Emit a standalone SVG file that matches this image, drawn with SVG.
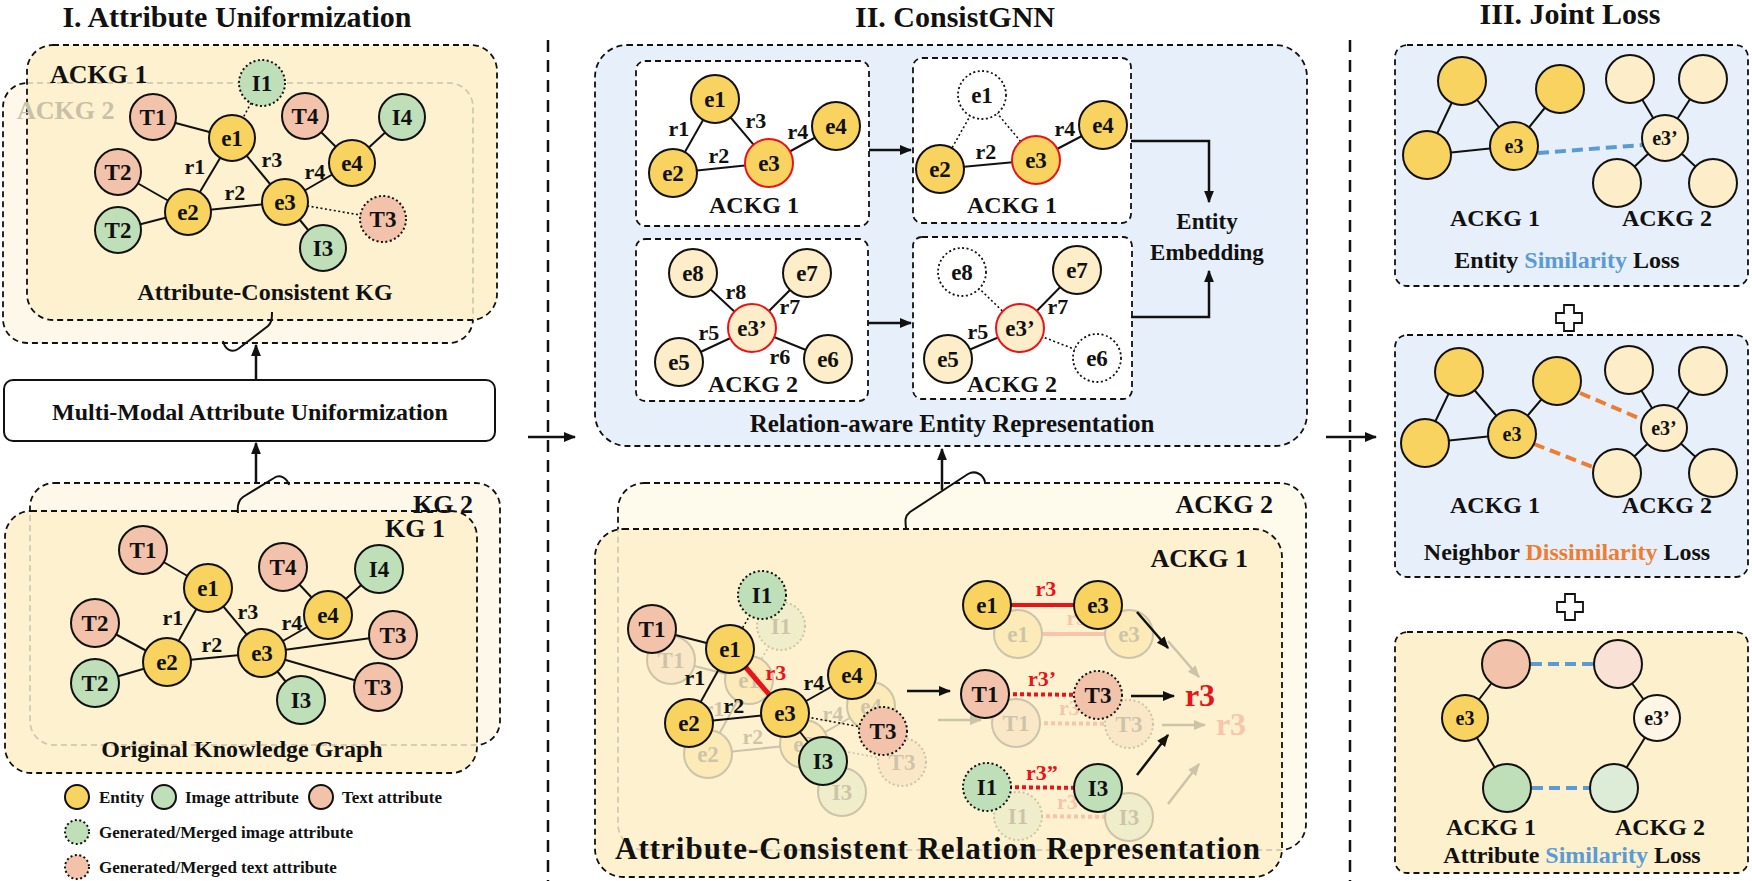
<svg xmlns="http://www.w3.org/2000/svg" xmlns:xlink="http://www.w3.org/1999/xlink" width="1752" height="881" viewBox="0 0 1752 881">
<style>
text{font-family:"Liberation Serif","Times New Roman",serif;font-weight:bold;fill:#111}
.t{font-size:30px;text-anchor:middle}
.nl{font-size:23px;text-anchor:middle}
.sl{font-size:20px;text-anchor:middle}
.rl{font-size:22px;text-anchor:middle}
.lb{font-size:24px;text-anchor:middle}
.lg{font-size:17px}
.box{stroke:#111;stroke-width:1.8;stroke-dasharray:6 4}
.ent{fill:#f9d35f;stroke:#111;stroke-width:2}
.ent2{fill:#fdedc8;stroke:#111;stroke-width:2}
.img{fill:#bfdfb9;stroke:#111;stroke-width:2}
.txt{fill:#f2c3aa;stroke:#111;stroke-width:2}
.gen{stroke-dasharray:2 2.5}
.red{stroke:#e8141a!important}
.dot{fill:#fff;stroke:#111;stroke-width:1.8;stroke-dasharray:2 2.5}
.e{stroke:#111;stroke-width:2;fill:none}
.ed{stroke:#111;stroke-width:1.6;stroke-dasharray:2 2.5;fill:none}
.sep{stroke:#111;stroke-width:2.5;stroke-dasharray:12 8}
.ar{stroke:#111;stroke-width:2.5;fill:none;marker-end:url(#ah)}
.ghost{opacity:0.2}
.faint{fill:none;stroke:#cfc7b4;stroke-width:1.5;stroke-dasharray:6 4}
</style>
<defs>
<marker id="ah" viewBox="0 0 10 10" refX="9" refY="5" markerWidth="5" markerHeight="5" orient="auto" markerUnits="strokeWidth"><path d="M0,1 L10,5 L0,9 z" fill="#111"/></marker>
<clipPath id="c1"><rect x="28" y="46" width="468" height="273" rx="26"/></clipPath>
<clipPath id="c2"><rect x="6" y="512" width="470" height="260" rx="26"/></clipPath>
<clipPath id="c3"><rect x="596" y="530" width="685" height="346" rx="28"/></clipPath>
</defs>
<rect width="1752" height="881" fill="#fff"/>

<!-- titles -->
<text class="t" x="237" y="27">I. Attribute Uniformization</text>
<text class="t" x="955" y="27">II. ConsistGNN</text>
<text class="t" x="1570" y="24">III. Joint Loss</text>
<line class="sep" x1="548" y1="40" x2="548" y2="881"/>
<line class="sep" x1="1350" y1="40" x2="1350" y2="881"/>

<!-- ===== Panel I top: ACKG ===== -->
<g id="ackg-top">
<rect class="box" x="3" y="83" width="470" height="260" rx="24" fill="#fef8ea"/>
<rect class="box" x="27" y="45" width="470" height="275" rx="26" fill="#fdf0cc" fill-opacity="0.92"/>
<rect class="faint" x="3" y="83" width="470" height="260" rx="24" clip-path="url(#c1)"/>
<text x="50" y="83" style="font-size:26px">ACKG 1</text>
<text x="17" y="119" style="font-size:26px;fill:#c9c0a8">ACKG 2</text>
<text class="lb" x="265" y="300">Attribute-Consistent KG</text>
</g>
<g id="ackg-top-edges">
<line class="e" x1="153" y1="117" x2="232" y2="138"/>
<line class="ed" x1="262" y1="83" x2="232" y2="138"/>
<line class="e" x1="232" y1="138" x2="188" y2="212"/>
<line class="e" x1="232" y1="138" x2="285" y2="202"/>
<line class="e" x1="188" y1="212" x2="285" y2="202"/>
<line class="e" x1="118" y1="172" x2="188" y2="212"/>
<line class="e" x1="118" y1="230" x2="188" y2="212"/>
<line class="e" x1="285" y1="202" x2="352" y2="163"/>
<line class="e" x1="305" y1="116" x2="352" y2="163"/>
<line class="e" x1="402" y1="117" x2="352" y2="163"/>
<line class="ed" x1="285" y1="202" x2="383" y2="219"/>
<line class="e" x1="285" y1="202" x2="323" y2="248"/>
</g>
<g id="ackg-top-nodes">
<g id="a-I1"><circle class="img gen" cx="262" cy="83" r="23"/><text class="nl" x="262" y="91">I1</text></g>
<g id="a-T1"><circle class="txt" cx="153" cy="117" r="23"/><text class="nl" x="153" y="125">T1</text></g>
<g id="a-e1"><circle class="ent" cx="232" cy="138" r="23"/><text class="nl" x="232" y="146">e1</text></g>
<g id="a-T4"><circle class="txt" cx="305" cy="116" r="23"/><text class="nl" x="305" y="124">T4</text></g>
<g id="a-I4"><circle class="img" cx="402" cy="117" r="23"/><text class="nl" x="402" y="125">I4</text></g>
<g id="a-T2"><circle class="txt" cx="118" cy="172" r="23"/><text class="nl" x="118" y="180">T2</text></g>
<g id="a-e4"><circle class="ent" cx="352" cy="163" r="23"/><text class="nl" x="352" y="171">e4</text></g>
<g id="a-e2"><circle class="ent" cx="188" cy="212" r="23"/><text class="nl" x="188" y="220">e2</text></g>
<g id="a-e3"><circle class="ent" cx="285" cy="202" r="23"/><text class="nl" x="285" y="210">e3</text></g>
<g id="a-T2g"><circle class="img" cx="118" cy="230" r="23"/><text class="nl" x="118" y="238">T2</text></g>
<g id="a-T3"><circle class="txt gen" cx="383" cy="219" r="23"/><text class="nl" x="383" y="227">T3</text></g>
<g id="a-I3"><circle class="img" cx="323" cy="248" r="23"/><text class="nl" x="323" y="256">I3</text></g>
<text class="rl" x="195" y="174">r1</text><text class="rl" x="272" y="167">r3</text>
<text class="rl" x="315" y="179">r4</text><text class="rl" x="235" y="200">r2</text>
</g>

<!-- Multi-modal box -->
<g id="mm">
<rect x="4" y="380" width="491" height="61" rx="9" fill="#fff" stroke="#111" stroke-width="2"/>
<text x="250" y="420" style="font-size:24px;text-anchor:middle">Multi-Modal Attribute Uniformization</text>
</g>

<!-- ===== Panel I bottom: KG ===== -->
<g id="kg">
<rect class="box" x="30" y="483" width="470" height="262" rx="24" fill="#fef8ea"/>
<rect class="box" x="5" y="511" width="472" height="262" rx="26" fill="#fdf0cc" fill-opacity="0.92"/>
<rect class="faint" x="30" y="483" width="470" height="262" rx="24" clip-path="url(#c2)"/>
<text x="473" y="513" style="font-size:26px;text-anchor:end">KG 2</text>
<text x="445" y="537" style="font-size:26px;text-anchor:end">KG 1</text>
<text class="lb" x="242" y="757">Original Knowledge Graph</text>
</g>
<g id="kg-edges">
<line class="e" x1="143" y1="550" x2="208" y2="588"/>
<line class="e" x1="208" y1="588" x2="167" y2="662"/>
<line class="e" x1="208" y1="588" x2="262" y2="653"/>
<line class="e" x1="167" y1="662" x2="262" y2="653"/>
<line class="e" x1="95" y1="623" x2="167" y2="662"/>
<line class="e" x1="95" y1="683" x2="167" y2="662"/>
<line class="e" x1="262" y1="653" x2="328" y2="615"/>
<line class="e" x1="283" y1="567" x2="328" y2="615"/>
<line class="e" x1="379" y1="569" x2="328" y2="615"/>
<line class="e" x1="262" y1="653" x2="393" y2="635"/>
<line class="e" x1="262" y1="653" x2="378" y2="687"/>
<line class="e" x1="262" y1="653" x2="301" y2="700"/>
</g>
<g id="kg-nodes">
<g id="k-T1"><circle class="txt" cx="143" cy="550" r="24"/><text class="nl" x="143" y="558">T1</text></g>
<g id="k-e1"><circle class="ent" cx="208" cy="588" r="24"/><text class="nl" x="208" y="596">e1</text></g>
<g id="k-T4"><circle class="txt" cx="283" cy="567" r="24"/><text class="nl" x="283" y="575">T4</text></g>
<g id="k-I4"><circle class="img" cx="379" cy="569" r="24"/><text class="nl" x="379" y="577">I4</text></g>
<g id="k-T2"><circle class="txt" cx="95" cy="623" r="24"/><text class="nl" x="95" y="631">T2</text></g>
<g id="k-e4"><circle class="ent" cx="328" cy="615" r="24"/><text class="nl" x="328" y="623">e4</text></g>
<g id="k-T3a"><circle class="txt" cx="393" cy="635" r="24"/><text class="nl" x="393" y="643">T3</text></g>
<g id="k-e2"><circle class="ent" cx="167" cy="662" r="24"/><text class="nl" x="167" y="670">e2</text></g>
<g id="k-e3"><circle class="ent" cx="262" cy="653" r="24"/><text class="nl" x="262" y="661">e3</text></g>
<g id="k-T2g"><circle class="img" cx="95" cy="683" r="24"/><text class="nl" x="95" y="691">T2</text></g>
<g id="k-T3b"><circle class="txt" cx="378" cy="687" r="24"/><text class="nl" x="378" y="695">T3</text></g>
<g id="k-I3"><circle class="img" cx="301" cy="700" r="24"/><text class="nl" x="301" y="708">I3</text></g>
<text class="rl" x="173" y="625">r1</text><text class="rl" x="248" y="619">r3</text>
<text class="rl" x="292" y="630">r4</text><text class="rl" x="212" y="652">r2</text>
</g>

<!-- legend -->
<g id="legend">
<circle class="ent" cx="77" cy="797" r="12"/><text class="lg" x="99" y="803">Entity</text>
<circle class="img" cx="164" cy="797" r="12"/><text class="lg" x="185" y="803">Image attribute</text>
<circle class="txt" cx="321" cy="797" r="12"/><text class="lg" x="342" y="803">Text attribute</text>
<circle class="img gen" cx="77" cy="832" r="12"/><text class="lg" x="99" y="838">Generated/Merged image attribute</text>
<circle class="txt gen" cx="77" cy="867" r="12"/><text class="lg" x="99" y="873">Generated/Merged text attribute</text>
</g>

<!-- ===== Panel II ===== -->
<g id="rae">
<rect class="box" x="595" y="45" width="712" height="401" rx="32" fill="#e7f0fa"/>
<text x="952" y="432" style="font-size:25px;text-anchor:middle">Relation-aware Entity Representation</text>
<text x="1207" y="229" style="font-size:23px;text-anchor:middle">Entity</text>
<text x="1207" y="260" style="font-size:23px;text-anchor:middle">Embedding</text>
</g>
<g id="boxA1">
<rect class="box" x="636" y="61" width="233" height="165" rx="9" fill="#fff"/>
<line class="e" x1="715" y1="99" x2="673" y2="173"/><line class="e" x1="715" y1="99" x2="769" y2="163"/>
<line class="e" x1="673" y1="173" x2="769" y2="163"/><line class="e" x1="769" y1="163" x2="836" y2="126"/>
<circle class="ent" cx="715" cy="99" r="24"/><text class="nl" x="715" y="107">e1</text>
<circle class="ent" cx="673" cy="173" r="24"/><text class="nl" x="673" y="181">e2</text>
<circle class="ent red" cx="769" cy="163" r="24"/><text class="nl" x="769" y="171">e3</text>
<circle class="ent" cx="836" cy="126" r="24"/><text class="nl" x="836" y="134">e4</text>
<text class="rl" x="679" y="136">r1</text><text class="rl" x="756" y="128">r3</text>
<text class="rl" x="798" y="139">r4</text><text class="rl" x="719" y="163">r2</text>
<text class="lb" x="754" y="213">ACKG 1</text>
</g>
<g id="boxB1">
<rect class="box" x="913" y="58" width="218" height="165" rx="9" fill="#fff"/>
<line class="ed" x1="982" y1="95" x2="940" y2="169"/><line class="ed" x1="982" y1="95" x2="1036" y2="160"/>
<line class="e" x1="940" y1="169" x2="1036" y2="160"/><line class="e" x1="1036" y1="160" x2="1103" y2="125"/>
<circle class="dot" cx="982" cy="95" r="24"/><text class="nl" x="982" y="103">e1</text>
<circle class="ent" cx="940" cy="169" r="24"/><text class="nl" x="940" y="177">e2</text>
<circle class="ent red" cx="1036" cy="160" r="24"/><text class="nl" x="1036" y="168">e3</text>
<circle class="ent" cx="1103" cy="125" r="24"/><text class="nl" x="1103" y="133">e4</text>
<text class="rl" x="986" y="159">r2</text><text class="rl" x="1065" y="136">r4</text>
<text class="lb" x="1012" y="213">ACKG 1</text>
</g>
<g id="boxA2">
<rect class="box" x="636" y="239" width="232" height="162" rx="9" fill="#fff"/>
<line class="e" x1="693" y1="273" x2="752" y2="328"/><line class="e" x1="807" y1="273" x2="752" y2="328"/>
<line class="e" x1="679" y1="362" x2="752" y2="328"/><line class="e" x1="828" y1="359" x2="752" y2="328"/>
<circle class="ent2" cx="693" cy="273" r="24"/><text class="nl" x="693" y="281">e8</text>
<circle class="ent2" cx="807" cy="273" r="24"/><text class="nl" x="807" y="281">e7</text>
<circle class="ent2 red" cx="752" cy="328" r="24"/><text class="nl" x="752" y="336">e3’</text>
<circle class="ent2" cx="679" cy="362" r="24"/><text class="nl" x="679" y="370">e5</text>
<circle class="ent2" cx="828" cy="359" r="24"/><text class="nl" x="828" y="367">e6</text>
<text class="rl" x="736" y="299">r8</text><text class="rl" x="790" y="314">r7</text>
<text class="rl" x="709" y="340">r5</text><text class="rl" x="780" y="364">r6</text>
<text class="lb" x="753" y="392">ACKG 2</text>
</g>
<g id="boxB2">
<rect class="box" x="913" y="237" width="219" height="162" rx="9" fill="#fff"/>
<line class="ed" x1="962" y1="272" x2="1020" y2="328"/><line class="e" x1="1077" y1="270" x2="1020" y2="328"/>
<line class="e" x1="948" y1="359" x2="1020" y2="328"/><line class="ed" x1="1097" y1="358" x2="1020" y2="328"/>
<circle class="dot" cx="962" cy="272" r="24"/><text class="nl" x="962" y="280">e8</text>
<circle class="ent2" cx="1077" cy="270" r="24"/><text class="nl" x="1077" y="278">e7</text>
<circle class="ent2 red" cx="1020" cy="328" r="24"/><text class="nl" x="1020" y="336">e3’</text>
<circle class="ent2" cx="948" cy="359" r="24"/><text class="nl" x="948" y="367">e5</text>
<circle class="dot" cx="1097" cy="358" r="24"/><text class="nl" x="1097" y="366">e6</text>
<text class="rl" x="1058" y="314">r7</text><text class="rl" x="978" y="339">r5</text>
<text class="lb" x="1012" y="392">ACKG 2</text>
</g>

<!-- bottom ACKG stack -->
<g id="acr">
<rect class="box" x="618" y="483" width="688" height="367" rx="26" fill="#fefaec"/>
<rect class="box" x="595" y="529" width="687" height="348" rx="28" fill="#fdf0cc" fill-opacity="0.92"/>
<rect class="faint" x="618" y="483" width="688" height="367" rx="26" clip-path="url(#c3)"/>
<text x="1273" y="513" style="font-size:26px;text-anchor:end">ACKG 2</text>
<text x="1248" y="567" style="font-size:26px;text-anchor:end">ACKG 1</text>
<text x="615" y="859" textLength="645" style="font-size:31px">Attribute-Consistent Relation Representation</text>
</g>
<use xlink:href="#acr-left" href="#acr-left" transform="translate(19,31)" class="ghost"/>
<use xlink:href="#acr-right" href="#acr-right" transform="translate(31,29)" class="ghost"/>
<g id="acr-left">
<line class="e" x1="652" y1="629" x2="730" y2="649"/>
<line class="ed" x1="762" y1="595" x2="730" y2="649"/>
<line class="e" x1="730" y1="649" x2="689" y2="723"/>
<line x1="730" y1="649" x2="785" y2="713" stroke="#e8141a" stroke-width="5"/>
<line class="e" x1="689" y1="723" x2="785" y2="713"/>
<line class="e" x1="785" y1="713" x2="852" y2="675"/>
<line class="ed" x1="785" y1="713" x2="883" y2="731"/>
<line class="e" x1="785" y1="713" x2="823" y2="761"/>
<g id="b-T1"><circle class="txt" cx="652" cy="629" r="24"/><text class="nl" x="652" y="637">T1</text></g>
<g id="b-I1"><circle class="img gen" cx="762" cy="595" r="24"/><text class="nl" x="762" y="603">I1</text></g>
<g id="b-e1"><circle class="ent" cx="730" cy="649" r="24"/><text class="nl" x="730" y="657">e1</text></g>
<g id="b-e4"><circle class="ent" cx="852" cy="675" r="24"/><text class="nl" x="852" y="683">e4</text></g>
<g id="b-e2"><circle class="ent" cx="689" cy="723" r="24"/><text class="nl" x="689" y="731">e2</text></g>
<g id="b-e3"><circle class="ent" cx="785" cy="713" r="24"/><text class="nl" x="785" y="721">e3</text></g>
<g id="b-T3"><circle class="txt gen" cx="883" cy="731" r="24"/><text class="nl" x="883" y="739">T3</text></g>
<g id="b-I3"><circle class="img" cx="823" cy="761" r="24"/><text class="nl" x="823" y="769">I3</text></g>
<text class="rl" x="695" y="685">r1</text><text class="rl" x="776" y="680" style="fill:#e8141a">r3</text>
<text class="rl" x="814" y="690">r4</text><text class="rl" x="734" y="713">r2</text>
</g>
<g id="acr-right">
<line class="ar" x1="907" y1="691" x2="950" y2="691"/>
<line x1="987" y1="605" x2="1098" y2="605" stroke="#e8141a" stroke-width="4"/>
<line x1="985" y1="694" x2="1098" y2="695" stroke="#e8141a" stroke-width="4" stroke-dasharray="4 3"/>
<line x1="987" y1="787" x2="1098" y2="788" stroke="#e8141a" stroke-width="4" stroke-dasharray="4 3"/>
<circle class="ent" cx="987" cy="605" r="24"/><text class="nl" x="987" y="613">e1</text>
<circle class="ent" cx="1098" cy="605" r="24"/><text class="nl" x="1098" y="613">e3</text>
<circle class="txt" cx="985" cy="694" r="24"/><text class="nl" x="985" y="702">T1</text>
<circle class="txt gen" cx="1098" cy="695" r="24"/><text class="nl" x="1098" y="703">T3</text>
<circle class="img gen" cx="987" cy="787" r="24"/><text class="nl" x="987" y="795">I1</text>
<circle class="img" cx="1098" cy="788" r="24"/><text class="nl" x="1098" y="796">I3</text>
<text class="rl" x="1046" y="596" style="fill:#e8141a">r3</text>
<text class="rl" x="1042" y="686" style="fill:#e8141a">r3’</text>
<text class="rl" x="1042" y="780" style="fill:#e8141a">r3”</text>
<line class="ar" x1="1137" y1="612" x2="1168" y2="648"/>
<line class="ar" x1="1131" y1="696" x2="1174" y2="696"/>
<line class="ar" x1="1137" y1="775" x2="1168" y2="735"/>
<text x="1200" y="706" style="font-size:32px;text-anchor:middle;fill:#e8141a">r3</text>
</g>

<!-- ===== Panel III ===== -->
<g id="esl">
<rect class="box" x="1395" y="45" width="353" height="241" rx="12" fill="#e7f0fa"/>
<line class="e" x1="1462" y1="81" x2="1427" y2="155"/><line class="e" x1="1462" y1="81" x2="1514" y2="146"/>
<line class="e" x1="1427" y1="155" x2="1514" y2="146"/><line class="e" x1="1560" y1="89" x2="1514" y2="146"/>
<line class="e" x1="1630" y1="79" x2="1665" y2="138"/><line class="e" x1="1703" y1="79" x2="1665" y2="138"/>
<line class="e" x1="1617" y1="183" x2="1665" y2="138"/><line class="e" x1="1713" y1="183" x2="1665" y2="138"/>
<line x1="1538" y1="153" x2="1643" y2="145" stroke="#5b9bd5" stroke-width="4" stroke-dasharray="11 6"/>
<circle class="ent" cx="1462" cy="81" r="24"/><circle class="ent" cx="1560" cy="89" r="24"/>
<circle class="ent" cx="1427" cy="155" r="24"/>
<circle class="ent" cx="1514" cy="146" r="24"/><text class="sl" x="1514" y="153">e3</text>
<circle class="ent2" cx="1630" cy="79" r="24"/><circle class="ent2" cx="1703" cy="79" r="24"/>
<circle class="ent2" cx="1617" cy="183" r="24"/><circle class="ent2" cx="1713" cy="183" r="24"/>
<circle class="ent2" cx="1665" cy="138" r="23"/><text class="sl" x="1665" y="145">e3’</text>
<text class="lb" x="1495" y="226">ACKG 1</text><text class="lb" x="1667" y="226">ACKG 2</text>
<text class="lb" x="1567" y="268">Entity <tspan style="fill:#5b9bd5">Similarity</tspan> Loss</text>
</g>
<g id="plus1"><path d="M1564,305 h10 v8 h8 v10 h-8 v8 h-10 v-8 h-8 v-10 h8 z" fill="#fff" stroke="#111" stroke-width="1.8"/></g>
<g id="ndl">
<rect class="box" x="1395" y="335" width="353" height="242" rx="12" fill="#e7f0fa"/>
<line class="e" x1="1459" y1="372" x2="1425" y2="443"/><line class="e" x1="1459" y1="372" x2="1512" y2="434"/>
<line class="e" x1="1425" y1="443" x2="1512" y2="434"/><line class="e" x1="1557" y1="381" x2="1512" y2="434"/>
<line class="e" x1="1629" y1="370" x2="1664" y2="428"/><line class="e" x1="1703" y1="371" x2="1664" y2="428"/>
<line class="e" x1="1617" y1="473" x2="1664" y2="428"/><line class="e" x1="1713" y1="473" x2="1664" y2="428"/>
<line x1="1580" y1="393" x2="1641" y2="419" stroke="#ed7d31" stroke-width="4" stroke-dasharray="11 6"/>
<line x1="1534" y1="444" x2="1593" y2="467" stroke="#ed7d31" stroke-width="4" stroke-dasharray="11 6"/>
<circle class="ent" cx="1459" cy="372" r="24"/><circle class="ent" cx="1557" cy="381" r="24"/>
<circle class="ent" cx="1425" cy="443" r="24"/>
<circle class="ent" cx="1512" cy="434" r="24"/><text class="sl" x="1512" y="441">e3</text>
<circle class="ent2" cx="1629" cy="370" r="24"/><circle class="ent2" cx="1703" cy="371" r="24"/>
<circle class="ent2" cx="1617" cy="473" r="24"/><circle class="ent2" cx="1713" cy="473" r="24"/>
<circle class="ent2" cx="1664" cy="428" r="23"/><text class="sl" x="1664" y="435">e3’</text>
<text class="lb" x="1495" y="513">ACKG 1</text><text class="lb" x="1667" y="513">ACKG 2</text>
<text class="lb" x="1567" y="560">Neighbor <tspan style="fill:#ed7d31">Dissimilarity</tspan> Loss</text>
</g>
<g id="plus2"><path d="M1565,594 h10 v8 h8 v10 h-8 v8 h-10 v-8 h-8 v-10 h8 z" fill="#fff" stroke="#111" stroke-width="1.8"/></g>
<g id="asl">
<rect class="box" x="1395" y="632" width="353" height="241" rx="12" fill="#fdf0cc"/>
<line class="e" x1="1506" y1="664" x2="1465" y2="718"/><line class="e" x1="1465" y1="718" x2="1507" y2="788"/>
<line class="e" x1="1618" y1="664" x2="1657" y2="718"/><line class="e" x1="1657" y1="718" x2="1614" y2="788"/>
<line x1="1531" y1="664" x2="1594" y2="664" stroke="#5b9bd5" stroke-width="4" stroke-dasharray="11 6"/>
<line x1="1532" y1="788" x2="1590" y2="788" stroke="#5b9bd5" stroke-width="4" stroke-dasharray="11 6"/>
<circle class="txt" cx="1506" cy="664" r="24"/>
<circle class="ent" cx="1465" cy="718" r="23"/><text class="sl" x="1465" y="725">e3</text>
<circle class="img" cx="1507" cy="788" r="24"/>
<circle cx="1618" cy="664" r="24" fill="#f9e1d6" stroke="#111" stroke-width="2"/>
<circle class="ent2" cx="1657" cy="718" r="23" style="fill:#fef6e4"/><text class="sl" x="1657" y="725">e3’</text>
<circle cx="1614" cy="788" r="24" fill="#dcecd6" stroke="#111" stroke-width="2"/>
<text class="lb" x="1491" y="835">ACKG 1</text><text class="lb" x="1660" y="835">ACKG 2</text>
<text class="lb" x="1572" y="863">Attribute <tspan style="fill:#5b9bd5">Similarity</tspan> Loss</text>
</g>

<!-- connectors -->
<g id="connectors">
<line class="ar" x1="256" y1="380" x2="256" y2="345"/>
<path class="e" d="M223,341 C225,350 232,353 238,349 L268,326 C272,322 272,318 272,312"/>
<line class="ar" x1="256" y1="483" x2="256" y2="443"/>
<path class="e" d="M238,513 C237,505 239,500 243,497 L274,478 C280,474 287,478 289,485"/>
<line class="ar" x1="528" y1="437" x2="575" y2="437"/>
<line class="ar" x1="869" y1="150" x2="911" y2="150"/>
<line class="ar" x1="868" y1="323" x2="911" y2="323"/>
<path class="ar" d="M1131,141 H1209 V202"/>
<path class="ar" d="M1131,317 H1209 V271"/>
<line class="ar" x1="942" y1="490" x2="942" y2="449"/>
<path class="e" d="M906,528 C905,520 905,516 910,512 L968,474 C975,470 983,474 985,482"/>
<line class="ar" x1="1326" y1="437" x2="1376" y2="437"/>
</g>
</svg>
